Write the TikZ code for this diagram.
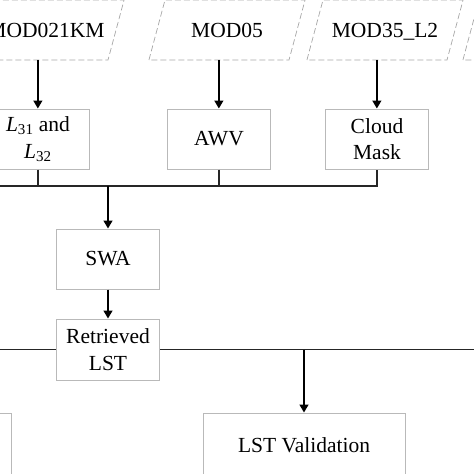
\documentclass[tikz,border=0pt]{standalone}
\usepackage{fontspec}
\setmainfont{Liberation Serif}
\usetikzlibrary{shapes.geometric, arrows.meta, positioning, calc}

\begin{document}
\begin{tikzpicture}[x=1pt, y=-1pt,
    data/.style={
        trapezium, trapezium left angle=75, trapezium right angle=105,
        text width=124pt, align=center, text height=16.5pt, text depth=2.5pt,
        inner xsep=0pt, inner ysep=20.5pt,
        draw=gray!70, dash pattern=on 6pt off 3pt, line width=0.7pt,
        font=\fontsize{21.5}{26.5}\selectfont
    },
    proc/.style={
        rectangle, minimum width=103pt, minimum height=60pt, align=center,
        draw=gray!55, line width=1pt, inner sep=0pt,
        font=\fontsize{21.5}{26.5}\selectfont
    },
    arrow/.style={-{Triangle[length=8pt, width=9pt]}, line width=1.4pt},
    link/.style={line width=1.4pt, black!85}
]
    \useasboundingbox (0,0) rectangle (474,474);

    \node[data] (mod021) at (46,30)  {MOD021KM};
    \node[data] (mod05)  at (227,30) {MOD05};
    \node[data] (mod35)  at (385,30) {MOD35\_L2};
    \node[data] (modx)   at (541,30) {};

    \node[proc] (lrad)  at (38,139)  {\textit{L}\textsubscript{31} and\\\textit{L}\textsubscript{32}};
    \node[proc] (awv)   at (219,139) {AWV};
    \node[proc] (cmask) at (377,139) {Cloud\\Mask};
    \node[proc] (swa)   at (108,259) {SWA};
    \node[proc, minimum height=61pt] (lst) at (108,349.5) {Retrieved\\LST};
    \node[proc, minimum width=202pt, minimum height=64pt] (valid) at (304,445) {LST Validation};
    \node[proc, minimum width=202pt, minimum height=64pt] (other) at (-90,445) {};

    \coordinate (busL) at (-5,186);
    \coordinate (outL) at (-5,349.5);
    \coordinate (outR) at (480,349.5);

    \foreach \i/\j in {mod021/lrad, mod05/awv, mod35/cmask} {
        \draw[arrow] (\i.bottom side) -- (\i.bottom side |- \j.north);
    }
    \draw[link] (busL) -- (cmask.south |- busL) -- (cmask.south);
    \foreach \n in {lrad, awv} {
        \draw[link] (\n.south) -- (\n.south |- busL);
    }
    \draw[arrow] (swa.north |- busL) -- (swa.north);
    \draw[arrow] (swa.south) -- (lst.north);
    \draw[link] (outL) -- (lst.west);
    \draw[link] (lst.east) -- (outR);
    \draw[arrow] (valid.north |- outR) -- (valid.north);
\end{tikzpicture}
\end{document}
